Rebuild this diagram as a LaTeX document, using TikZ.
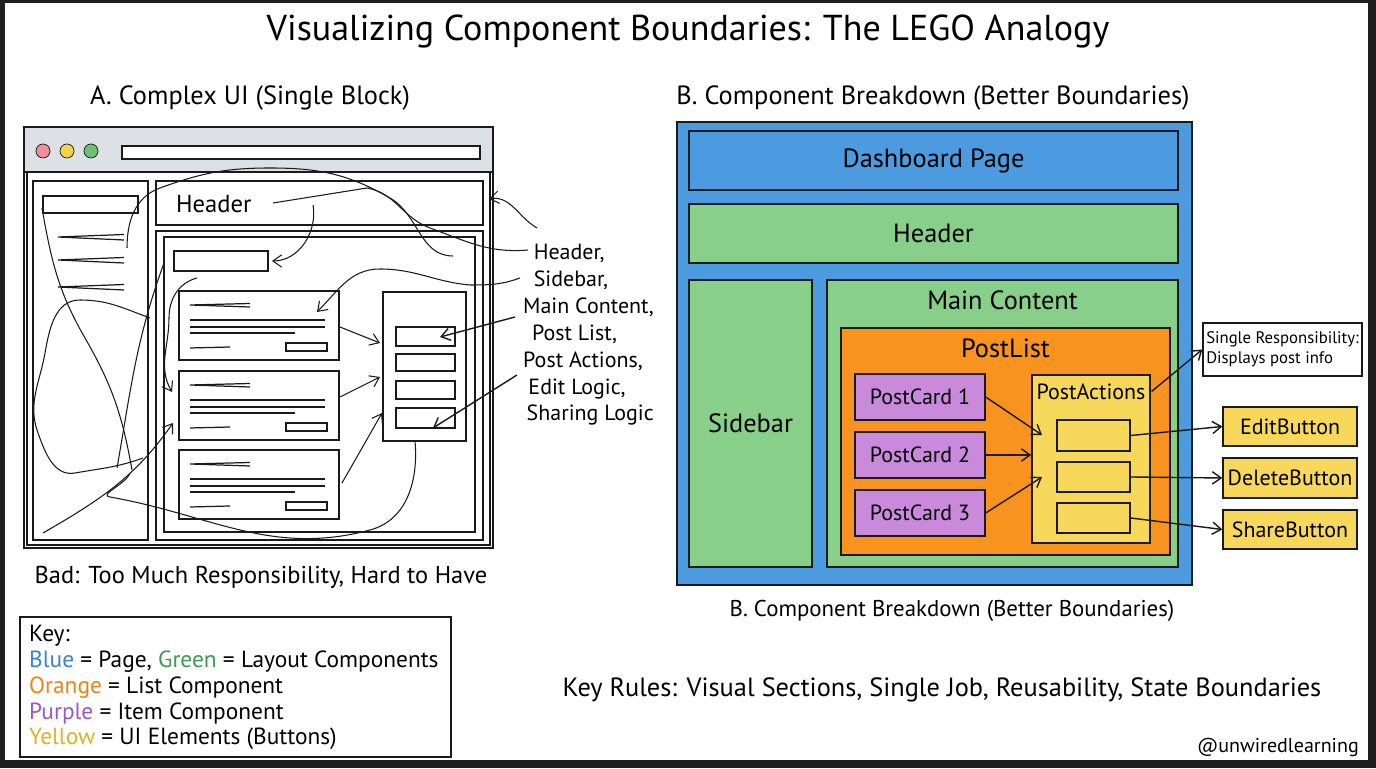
\documentclass[tikz,border=0pt]{standalone}
\usepackage{fontspec}
\setmainfont{PT Sans}
\usepackage{tikz}
\usetikzlibrary{arrows.meta, positioning, calc}
\definecolor{pageblue}{HTML}{4C9BE0}
\definecolor{layoutgreen}{HTML}{88CF8A}
\definecolor{listorange}{HTML}{F7931E}
\definecolor{itempurple}{HTML}{C98ADB}
\definecolor{uiyellow}{HTML}{F8D85A}
\definecolor{bargray}{HTML}{DDE0E4}
\definecolor{dotred}{HTML}{EE8F97}
\definecolor{dotyellow}{HTML}{F3D34A}
\definecolor{dotgreen}{HTML}{6DC174}
\definecolor{keyblue}{HTML}{3B84C8}
\definecolor{keygreen}{HTML}{3E9A52}
\definecolor{keyorange}{HTML}{E8861A}
\definecolor{keypurple}{HTML}{9B57C2}
\definecolor{keyyellow}{HTML}{DDB22B}
\definecolor{ink}{HTML}{1A1A1A}

\begin{document}
\begin{tikzpicture}[
    >={Straight Barb[length=5pt, width=7pt]},
    comp/.style={draw=ink, thick, fill=#1, inner sep=1pt, align=center},
    big/.style={font=\fontsize{15}{18}\selectfont},
    mid/.style={font=\fontsize{12.5}{15}\selectfont},
    sketch/.style={draw=ink, line width=0.7pt},
    scrib/.style={draw=ink, line width=0.6pt},
    link/.style={->, draw=ink, line width=0.8pt},
]
    \useasboundingbox (0,0) rectangle (27.52,15.36);
    \fill[black!88] (0,0) rectangle (27.52,15.36);
    \fill[white] (0.1,0.16) rectangle (27.36,15.30);

    % Titles
    \node[font=\fontsize{20.5}{24}\selectfont] (title) at (13.76,14.72) {Visualizing Component Boundaries: The LEGO Analogy};
    \node[font=\fontsize{15}{18}\selectfont] (headA) at (5.0,13.40) {A. Complex UI (Single Block)};
    \node[font=\fontsize{15}{18}\selectfont] (headB) at (18.66,13.40) {B. Component Breakdown (Better Boundaries)};

    % Browser window (single block)
    \fill[bargray] (0.48,11.92) rectangle (9.86,12.82);
    \draw[sketch] (0.48,4.40) rectangle (9.86,12.82);
    \draw[sketch] (0.54,4.46) rectangle (9.80,11.92);
    \draw[sketch] (0.48,11.92) -- (9.86,11.92);
    \filldraw[draw=ink, fill=dotred] (0.86,12.34) circle (0.14);
    \filldraw[draw=ink, fill=dotyellow] (1.34,12.34) circle (0.14);
    \filldraw[draw=ink, fill=dotgreen] (1.82,12.34) circle (0.14);
    \draw[sketch, fill=white] (2.44,12.18) rectangle (9.60,12.44);

    % Sidebar sketch
    \draw[sketch] (0.66,4.56) rectangle (2.96,11.74);
    \draw[sketch] (0.86,11.10) rectangle (2.76,11.44);
    \foreach \y in {10.62,10.16,9.62}
        \draw[sketch] (2.48,{\y+0.05}) -- (1.16,\y) -- (2.48,{\y-0.06});

    % Header + main content sketch
    \draw[sketch] (3.12,10.86) rectangle (9.66,11.74);
    \node[font=\fontsize{14}{17}\selectfont, anchor=west] (hdrtxt) at (3.40,11.28) {Header};
    \draw[sketch] (3.12,4.56) rectangle (9.66,10.74);
    \draw[sketch] (3.28,4.72) rectangle (9.50,10.62);
    \draw[sketch] (3.48,9.94) rectangle (5.36,10.34);

    % Post cards sketch
    \foreach \t in {9.54,7.94,6.36} {
        \draw[sketch] (3.58,\t) rectangle (6.78,{\t-1.38});
        \draw[sketch] (5.00,{\t-0.25}) -- (3.80,{\t-0.28}) -- (5.00,{\t-0.32});
        \draw[sketch] (3.80,{\t-0.58}) -- (6.50,{\t-0.58});
        \draw[sketch] (3.80,{\t-0.72}) -- (6.50,{\t-0.72});
        \draw[sketch] (3.80,{\t-0.84}) -- (5.90,{\t-0.84});
        \draw[sketch] (3.80,{\t-1.14}) -- (4.60,{\t-1.12});
        \draw[sketch] (5.72,{\t-1.04}) rectangle (6.54,{\t-1.20});
    }

    % Actions sketch
    \draw[sketch] (7.66,6.54) rectangle (9.32,9.52);
    \draw[sketch] (7.92,8.44) rectangle (9.10,8.82);
    \draw[sketch] (7.92,7.94) rectangle (9.10,8.28);
    \draw[sketch] (7.92,7.38) rectangle (9.10,7.74);
    \draw[sketch] (7.92,6.80) rectangle (9.10,7.20);

    % Tangled wiring
    \draw[scrib] (10.56,10.36) to[out=185,in=-20] (8.6,10.8) to[out=160,in=-10] (7.34,11.60) -- (5.46,11.30);
    \draw[scrib] (2.54,10.40) to[out=90,in=200] (3.2,11.6) to[out=20,in=180] (5.4,12.0) to[out=0,in=150] (7.8,11.4) to[out=-30,in=180] (9.06,10.24);
    \draw[scrib, ->] (6.26,11.26) to[out=-80,in=0] (5.44,10.14);
    \draw[scrib, ->] (3.94,9.80) to[out=195,in=90] (3.38,9.0) to[out=-90,in=120] (3.44,7.52);
    \draw[scrib, ->] (6.80,8.82) -- (7.60,8.50);
    \draw[scrib, ->] (6.80,7.42) -- (7.60,7.82);
    \draw[scrib, ->] (6.84,5.70) -- (7.64,7.10);
    \draw[scrib, ->] (0.86,4.70) to[out=30,in=235] (3.46,6.90);
    \draw[scrib] (8.30,6.54) to[out=-85,in=15] (7.4,4.76) to[out=195,in=-10] (2.2,5.42) to[out=170,in=250] (2.6,5.9);
    \draw[scrib] (3.0,9.0) to[out=160,in=0] (1.6,9.36) to[out=180,in=80] (0.9,8.3) to[out=-100,in=110] (0.76,6.7) to[out=-70,in=190] (1.5,5.9) to[out=10,in=200] (2.86,6.2);
    \draw[scrib] (0.84,11.2) to[out=-80,in=120] (1.7,8.6) to[out=-60,in=100] (2.64,5.96);
    \draw[scrib] (3.28,10.1) to[out=-110,in=80] (2.34,6.0);

    % Responsibilities list
    \node[font=\fontsize{12.5}{15.3}\selectfont, align=left, anchor=north west] (duties) at (10.34,10.60)
        {\hspace*{6pt}Header,\\\hspace*{6pt}Sidebar,\\Main Content,\\\hspace*{5pt}Post List,\\Post Actions,\\\hspace*{3pt}Edit Logic,\\\hspace*{2pt}Sharing Logic};
    \draw[scrib, ->] (10.74,10.80) to[out=150,in=10] (9.78,11.38);
    \draw[scrib, ->] (10.40,9.80) to[out=200,in=0] (9.4,9.66) to[out=175,in=0] (7.6,9.98) to[out=180,in=45] (6.34,9.12);
    \draw[link] (10.30,9.02) -- (8.80,8.62);
    \draw[link] (10.34,7.86) -- (8.66,6.80);

    \node[font=\fontsize{13.9}{16}\selectfont] (bad) at (5.22,3.82) {Bad: Too Much Responsibility, Hard to Have};

    % Component breakdown
    \node[comp=pageblue, minimum width=10.30cm, minimum height=9.26cm] (page) at (18.69,8.29) {};
    \node[comp=pageblue, big, minimum width=9.78cm, minimum height=1.18cm] (dash) at (18.67,12.15) {Dashboard Page};
    \node[comp=layoutgreen, big, minimum width=9.78cm, minimum height=1.18cm] (head) at (18.67,10.69) {Header};
    \node[comp=layoutgreen, big, minimum width=2.46cm, minimum height=5.74cm] (side) at (15.01,6.89) {Sidebar};
    \node[comp=layoutgreen, minimum width=7.02cm, minimum height=5.74cm] (main) at (20.05,6.89) {};
    \node[big, below=0.1cm of main.north] (mainlbl) {Main Content};
    \node[comp=listorange, minimum width=6.58cm, minimum height=4.54cm] (list) at (20.11,6.53) {};
    \node[big, below=0.1cm of list.north] (listlbl) {PostList};

    \node[comp=itempurple, mid, minimum width=2.60cm, minimum height=0.92cm] (card1) at (18.40,7.42) {PostCard 1};
    \node[comp=itempurple, mid, minimum width=2.60cm, minimum height=0.92cm] (card2) at (18.40,6.26) {PostCard 2};
    \node[comp=itempurple, mid, minimum width=2.60cm, minimum height=0.92cm] (card3) at (18.40,5.10) {PostCard 3};

    \node[comp=uiyellow, minimum width=2.36cm, minimum height=3.36cm] (actions) at (21.82,6.18) {};
    \node[mid, below=0.06cm of actions.north] (actlbl) {PostActions};
    \node[comp=uiyellow, minimum width=1.46cm, minimum height=0.62cm] (slot1) at (21.87,6.65) {};
    \node[comp=uiyellow, minimum width=1.46cm, minimum height=0.60cm] (slot2) at (21.87,5.82) {};
    \node[comp=uiyellow, minimum width=1.46cm, minimum height=0.60cm] (slot3) at (21.87,5.00) {};

    \coordinate (in1) at (20.84,6.66);
    \coordinate (in3) at (20.84,5.82);
    \draw[link] (card1.east) -- (in1);
    \draw[link] (card2.east) -- (actions.west |- card2.east);
    \draw[link] (card3.east) -- (in3);

    \node[comp=white, font=\fontsize{9.5}{11.5}\selectfont, align=left, minimum width=3.18cm, minimum height=1.06cm] (note) at (25.65,8.37) {Single Responsibility:\\Displays post info};
    \draw[link] (actlbl.east) -- (note.west);

    \node[comp=uiyellow, mid, minimum width=2.68cm, minimum height=0.78cm] (edit) at (25.80,6.83) {EditButton};
    \node[comp=uiyellow, mid, minimum width=2.68cm, minimum height=0.80cm] (delete) at (25.80,5.80) {DeleteButton};
    \node[comp=uiyellow, mid, minimum width=2.68cm, minimum height=0.78cm] (share) at (25.80,4.77) {ShareButton};
    \draw[link] (slot1.east) -- (edit.west);
    \draw[link] (slot2.east) -- (delete.west);
    \draw[link] (slot3.east) -- (share.west);

    \node[font=\fontsize{13}{15}\selectfont] (capB) at (19.04,3.14) {B. Component Breakdown (Better Boundaries)};

    % Key
    \node[draw=ink, thick, minimum width=8.62cm, minimum height=2.80cm] (keybox) at (4.71,1.62) {};
    \node[font=\fontsize{13.3}{14.7}\selectfont, align=left, anchor=north west] (keytxt) at (0.46,2.98)
        {Key:\\
         \textcolor{keyblue}{Blue} = Page, \textcolor{keygreen}{Green} = Layout Components\\
         \textcolor{keyorange}{Orange} = List Component\\
         \textcolor{keypurple}{Purple} = Item Component\\
         \textcolor{keyyellow}{Yellow} = UI Elements (Buttons)};

    \node[font=\fontsize{15}{18}\selectfont] (rules) at (18.84,1.56) {Key Rules: Visual Sections, Single Job, Reusability, State Boundaries};
    \node[font=\fontsize{11.4}{14}\selectfont, anchor=east] (handle) at (27.30,0.42) {@unwiredlearning};

\end{tikzpicture}
\end{document}
